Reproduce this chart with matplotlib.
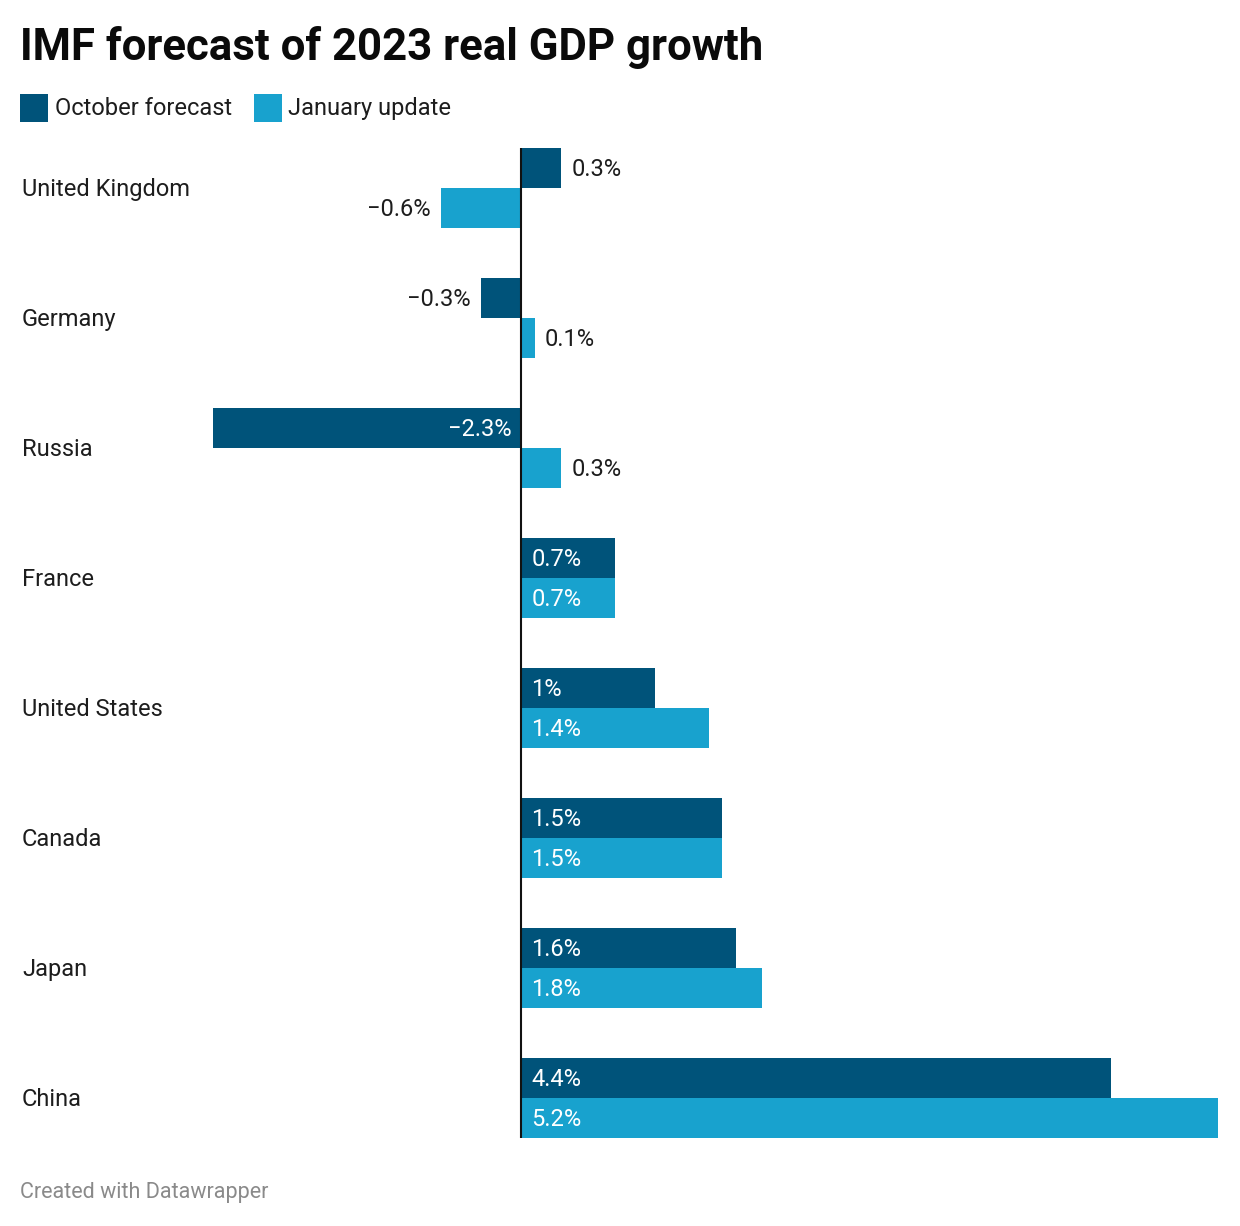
import matplotlib
matplotlib.use("Agg")
import matplotlib.pyplot as plt
from matplotlib.patches import Rectangle

countries = ["United Kingdom", "Germany", "Russia", "France",
             "United States", "Canada", "Japan", "China"]
october = [0.3, -0.3, -2.3, 0.7, 1.0, 1.5, 1.6, 4.4]
january = [-0.6, 0.1, 0.3, 0.7, 1.4, 1.5, 1.8, 5.2]
series_names = ["October forecast", "January update"]

DARK = "#00537a"
LIGHT = "#18a2ce"
INK = "#1d1d1d"
FOOT = "#8a8a8a"
FS = 17

plt.rcParams["font.family"] = ["Roboto", "DejaVu Sans"]

W, H = 1240, 1226
fig = plt.figure(figsize=(W / 100, H / 100), dpi=100)

# axes placed in pixel coordinates
left, right, top, bottom = 213, 1218, 148, 1138
ax = fig.add_axes([left / W, 1 - bottom / H, (right - left) / W, (bottom - top) / H])
ax.set_xlim(-2.3, 5.2)
ax.set_ylim(9.9, 0)
ax.axis("off")

bar_h = 0.4
step = 1.3


def fmt(v):
    s = f"{abs(v):.1f}".rstrip("0").rstrip(".") if v == int(v) else f"{abs(v):.1f}"
    return ("\u2212" if v < 0 else "") + s + "%"


for i, name in enumerate(countries):
    y0 = i * step
    for j, (vals, col) in enumerate([(october, DARK), (january, LIGHT)]):
        v = vals[i]
        yc = y0 + bar_h / 2 + j * bar_h
        ax.barh(yc, v, height=bar_h, color=col, linewidth=0)
        label = fmt(v)
        inside = abs(v) >= 0.65
        anchor = 0 if inside else v
        color = "white" if inside else INK
        if v >= 0:
            ax.annotate(label, (anchor, yc), xytext=(7.2, -6), textcoords="offset points",
                        ha="left", va="baseline", color=color, fontsize=FS)
        else:
            ax.annotate(label, (anchor, yc), xytext=(-7.2, -6), textcoords="offset points",
                        ha="right", va="baseline", color=color, fontsize=FS)
    fig.text(22 / W, 1 - (y0 * 100 + 40 + top + 8) / H, name, ha="left", va="baseline",
             fontsize=FS, color=INK)

ax.axvline(0, color="#111111", linewidth=1.5, zorder=5)

# title
fig.text(20 / W, 1 - 60 / H, "IMF forecast of 2023 real GDP growth", ha="left",
         va="baseline", fontsize=31.5, fontweight="bold", color="#0a0a0a")

# legend
for x_sq, x_txt, col, name in [(20, 55, DARK, series_names[0]), (254, 288, LIGHT, series_names[1])]:
    fig.patches.append(Rectangle((x_sq / W, 1 - 122 / H), 28 / W, 28 / H,
                                 transform=fig.transFigure, color=col, linewidth=0))
    fig.text(x_txt / W, 1 - 115 / H, name, ha="left", va="baseline", fontsize=FS, color=INK)

fig.text(20 / W, 1 - 1198 / H, "Created with Datawrapper", ha="left", va="baseline",
         fontsize=15.5, color=FOOT)

fig.savefig("out.png", dpi=100, facecolor="white")
